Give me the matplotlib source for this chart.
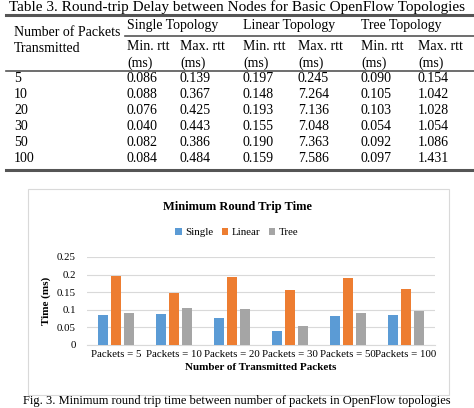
import numpy as np
import matplotlib.pyplot as plt
from matplotlib.patches import Rectangle

plt.rcParams['font.family'] = ['Liberation Serif', 'DejaVu Serif']

packets = ["5", "10", "20", "30", "50", "100"]
single_min = [0.086, 0.088, 0.076, 0.040, 0.082, 0.084]
single_max = [0.139, 0.367, 0.425, 0.443, 0.386, 0.484]
linear_min = [0.197, 0.148, 0.193, 0.155, 0.190, 0.159]
linear_max = [0.245, 7.264, 7.136, 7.048, 7.363, 7.586]
tree_min = [0.090, 0.105, 0.103, 0.054, 0.092, 0.097]
tree_max = [0.154, 1.042, 1.028, 1.054, 1.086, 1.431]
series_names = ["Single", "Linear", "Tree"]
colors = ["#5b9bd5", "#ed7d31", "#a5a5a5"]

W, H = 474, 408
fig = plt.figure(figsize=(W / 100, H / 100), dpi=100)
bg = fig.add_axes([0, 0, 1, 1])
bg.set_xlim(0, W)
bg.set_ylim(H, 0)
bg.axis("off")

# table
bg.text(W / 2, 7, "Table 3. Round-trip Delay between Nodes for Basic OpenFlow Topologies",
        ha="center", va="center", fontsize=11)
bg.plot([6, W], [15, 15], color="#555", lw=2.2)
bg.plot([125, W], [36, 36], color="#555", lw=1.2)
bg.plot([6, W], [71, 71], color="#555", lw=1.2)
bg.plot([6, W], [170, 170], color="#555", lw=2.2)
bg.text(14, 41, "Number of Packets\nTransmitted", ha="left", va="center", fontsize=10,
        linespacing=1.3)
col_x = [127, 180, 243, 298, 361, 418]
for gx, name in zip(col_x[::2], ["Single Topology", "Linear Topology", "Tree Topology"]):
    bg.text(gx, 26, name, ha="left", va="center", fontsize=10)
for i, cx in enumerate(col_x):
    bg.text(cx, 55, ("Min." if i % 2 == 0 else "Max.") + " rtt\n(ms)", ha="left",
            va="center", fontsize=10, linespacing=1.3)
cols = [single_min, single_max, linear_min, linear_max, tree_min, tree_max]
for r, p in enumerate(packets):
    y = 79 + r * 15.8
    bg.text(14, y, p, ha="left", va="center", fontsize=10)
    for cx, c in zip(col_x, cols):
        bg.text(cx, y, f"{c[r]:.3f}", ha="left", va="center", fontsize=10)

# chart frame
bg.add_patch(Rectangle((28, 189), 421, 206, fill=False, ec="#d9d9d9", lw=0.8))
bg.text(238, 207, "Minimum Round Trip Time", ha="center", va="center",
        fontsize=9, fontweight="bold")
bg.text(W / 2, 401, "Fig. 3. Minimum round trip time between number of packets in OpenFlow topologies",
        ha="center", va="center", fontsize=9)

ax = fig.add_axes([87 / W, 1 - 345 / H, (435 - 87) / W, (345 - 257) / H])
x = np.arange(len(packets))
w = 0.22
for k, (vals, name, col) in enumerate(zip([single_min, linear_min, tree_min], series_names, colors)):
    ax.bar(x + (k - 1) * w, vals, w * 0.8, color=col, label=name, zorder=3)
ax.set_ylim(0, 0.25)
ax.set_xlim(-0.5, len(packets) - 0.5)
ax.set_yticks([0, 0.05, 0.1, 0.15, 0.2, 0.25])
ax.set_yticklabels(["0", "0.05", "0.1", "0.15", "0.2", "0.25"])
ax.set_xticks(x)
ax.set_xticklabels([f"Packets = {p}" for p in packets])
ax.tick_params(length=0, labelsize=7.8)
ax.tick_params(axis="y", pad=8)
ax.grid(axis="y", color="#d9d9d9", lw=0.8, zorder=0)
for s in ["top", "right", "left"]:
    ax.spines[s].set_visible(False)
ax.spines["bottom"].set_color("#d9d9d9")
ax.set_ylabel("Time (ms)", fontsize=8, fontweight="bold", labelpad=4)
ax.set_xlabel("Number of Transmitted Packets", fontsize=8, fontweight="bold", labelpad=3)
ax.legend(loc="center", bbox_to_anchor=(0.43, 1.28), ncol=3, frameon=False, fontsize=7.8,
          handlelength=0.6, handleheight=0.6, handletextpad=0.3, columnspacing=0.8)

fig.savefig("out.png", dpi=100)
